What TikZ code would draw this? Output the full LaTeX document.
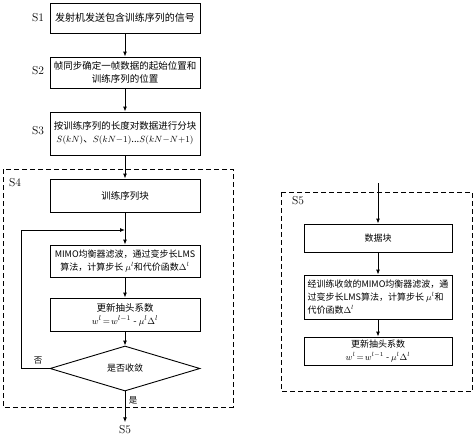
\documentclass[tikz,border=0pt]{standalone}
\usepackage{fontspec}
\newfontfamily\cjk{Noto Sans CJK SC}
\usetikzlibrary{shapes.geometric,arrows.meta}
\begin{document}
\begin{tikzpicture}[x=1pt,y=-1pt,
  box/.style={draw,line width=0.9pt,minimum width=150pt,inner sep=1pt,align=center,font=\cjk\fontsize{9.5}{13}\selectfont},
  rbox/.style={draw,line width=0.9pt,minimum width=148pt,inner sep=1pt,align=center,font=\cjk\fontsize{9}{13}\selectfont},
  lab/.style={font=\fontsize{11.5}{13}\selectfont},
  small/.style={font=\cjk\fontsize{8.5}{10}\selectfont},
  frame/.style={draw,line width=0.9pt,dash pattern=on 5pt off 3pt},
  arr/.style={-{Latex[length=5pt,width=4pt]},line width=0.9pt},
  ln/.style={line width=0.9pt}]
\useasboundingbox (0,0) rectangle (474,437);
% frames
\draw[frame] (3,169) rectangle (233,407);
\draw[frame] (281,192) rectangle (472.5,391);
% left column
\node[box,minimum height=30pt,font=\cjk\fontsize{10}{13}\selectfont] (s1) at (125,18) {发射机发送包含训练序列的信号};
\node[box,minimum height=31pt] (s2) at (125,72.5) {帧同步确定一帧数据的起始位置和\\训练序列的位置};
\node[box,minimum height=43pt] (s3) at (125,133.5) {按训练序列的长度对数据进行分块\\$S(kN)$、$S(kN{-}1)$...$S(kN{-}N{+}1)$};
\node[box,minimum height=33pt] (t) at (125,195.5) {训练序列块};
\node[box,minimum height=32pt,font=\cjk\fontsize{9}{13}\selectfont] (m) at (125,261) {MIMO均衡器滤波，通过变步长LMS\\算法，计算步长 $\mu^l$和代价函数$\Delta^l$};
\node[box,minimum height=33pt] (u) at (125,314.5) {更新抽头系数\\$w^l\!=\!w^{l-1}$ - $\mu^l\Delta^l$};
\node[draw,diamond,line width=0.9pt,aspect=3.33,minimum width=150pt,minimum height=45pt,inner sep=0pt,font=\cjk\fontsize{9}{11}\selectfont] (d) at (125,368.5) {是否收敛};
\node[lab] (s5b) at (125,430) {S5};
\coordinate (j) at (125,230);
\coordinate (fb) at (21,368.5);
% labels
\node[lab] (l1) at (38,18) {S1};
\node[lab] (l2) at (38,71) {S2};
\node[lab] (l3) at (38,131) {S3};
\node[lab] (l4) at (15,183) {S4};
\node[lab] (l5) at (298,201) {S5};
\node[small] (no) at (38,361) {否};
\node[small] (yes) at (133,400) {是};
% connectors
\draw[arr] (s1) -- (s2);
\draw[arr] (s2) -- (s3);
\draw[arr] (s3) -- (t);
\draw[arr] (t) -- (m);
\draw[arr] (m) -- (u);
\draw[arr] (u) -- (d);
\draw[arr] (d) -- (s5b);
\draw[arr] (d.west) -- (fb) |- (j);
% right column
\node[rbox,minimum height=28pt] (r1) at (378,238) {数据块};
\node[rbox,minimum height=44pt,align=left] (r2) at (378,297) {经训练收敛的MIMO均衡器滤波，通\\过变步长LMS算法，计算步长 $\mu^l$和\\代价函数$\Delta^l$};
\node[rbox,minimum height=28pt] (r3) at (378,351) {更新抽头系数\\$w^l\!=\!w^{l-1}$ - $\mu^l\Delta^l$};
\coordinate (rin) at (378,183);
\draw[arr] (rin) -- (r1);
\draw[arr] (r1) -- (r2);
\draw[arr] (r2) -- (r3);
\end{tikzpicture}
\end{document}
